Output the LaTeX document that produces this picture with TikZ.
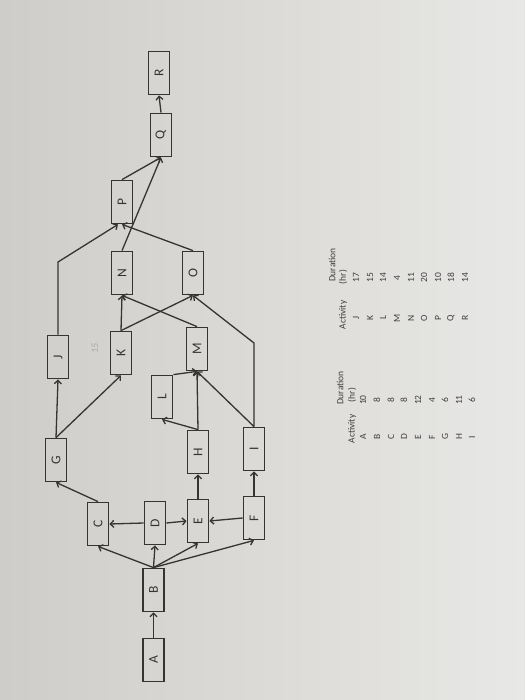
\documentclass[tikz,border=0pt]{standalone}
\usepackage{fontspec}
\setmainfont{Carlito}
\usetikzlibrary{arrows.meta}

\definecolor{paperleft}{HTML}{CFCDC9}
\definecolor{papermid}{HTML}{DCDBD8}
\definecolor{paperright}{HTML}{E8E8E6}
\definecolor{inkline}{HTML}{353433}
\definecolor{inktext}{HTML}{403F3E}

\newcommand{\actname}[1]{\rotatebox{90}{#1}}

\begin{document}
\begin{tikzpicture}[x=1pt,y=-1pt,
    activity/.style={draw=inkline, line width=1.8pt, minimum width=21pt,
      minimum height=43pt, inner sep=0pt, text=inkline,
      font=\fontsize{13.5}{15}\selectfont},
    link/.style={draw=inkline, line width=1.3pt,
      -{Straight Barb[length=3.5pt,width=7pt]}},
    tabtext/.style={rotate=90, text=inktext, inner sep=0pt,
      font=\fontsize{9.5}{11}\selectfont}]
    \useasboundingbox (0,0) rectangle (525,700);
    
    % Paper
    \shade[left color=paperleft, middle color=papermid, right color=paperright] (0,0) rectangle (525,700);%
    
    % Activity boxes
    \node[activity] (A) at (153.5,660) {\actname{A}};%
    \node[activity] (B) at (153.5,590) {\actname{B}};%
    \node[activity] (C) at (98,524) {\actname{C}};%
    \node[activity] (D) at (155,523) {\actname{D}};%
    \node[activity] (E) at (198,521) {\actname{E}};%
    \node[activity] (F) at (254,518) {\actname{F}};%
    \node[activity] (G) at (56,460) {\actname{G}};%
    \node[activity] (H) at (198,452) {\actname{H}};%
    \node[activity] (I) at (254,449) {\actname{I}};%
    \node[activity] (J) at (58,357) {\actname{J}};%
    \node[activity] (K) at (121,353) {\actname{K}};%
    \node[activity] (L) at (162,397) {\actname{L}};%
    \node[activity] (M) at (197,349) {\actname{M}};%
    \node[activity] (N) at (122,273) {\actname{N}};%
    \node[activity] (O) at (193,273) {\actname{O}};%
    \node[activity] (P) at (122,202) {\actname{P}};%
    \node[activity] (Q) at (161,135) {\actname{Q}};%
    \node[activity] (R) at (159,73) {\actname{R}};%
    
    % Bends
    \coordinate (Ibend) at (254,343);%
    \coordinate (Jbend) at (58,262);%
    
    % Links out of A and B
    \draw[link] (A.north) -- (B.south);%
    \draw[link] (B.north) -- (C.south);%
    \draw[link] (B.north) -- (D.south);%
    \draw[link] (B.north) -- (E.south);%
    \draw[link] (B.north) -- (F.south);%
    
    % Links out of C, D, E, F
    \draw[link] (C.north) -- (G.south);%
    \draw[link] (D.west) -- (C.east);%
    \draw[link] (D.east) -- (E.west);%
    \draw[link] (F.west) -- (E.east);%
    \draw[link] (E.north) -- (H.south);%
    \draw[link] (F.north) -- (I.south);%
    
    % Links out of G, H, I, L
    \draw[link] (G.north) -- (J.south);%
    \draw[link] (G.north) -- (K.south);%
    \draw[link] (H.north) -- (L.south);%
    \draw[link] (H.north) -- (M.south);%
    \draw[link] (L.north east) -- (M.south);%
    \draw[link] (I.north) -- (M.south);%
    \draw[link] (I.north) -- (Ibend) -- (O.south);%
    
    % Links out of J, K, M
    \draw[link] (J.north) -- (Jbend) -- ([xshift=-4pt]P.south);%
    \draw[link] (K.north) -- (N.south);%
    \draw[link] (K.north) -- (O.south);%
    \draw[link] (M.north) -- (N.south);%
    
    % Links out of N, O, P, Q
    \draw[link] (N.north) -- (Q.south);%
    \draw[link] (O.north) -- (P.south);%
    \draw[link] (P.north) -- (Q.south);%
    \draw[link] (Q.north) -- (R.south);%
    
    % Pencil mark by K
    \node[rotate=90, text=gray!65, inner sep=0pt, font=\itshape\fontsize{10}{11}\selectfont] (pencil) at (95,348) {15};%
    
    % First table, A to I
    \node[tabtext] (headDurA) at (340,388) {Duration};%
    \node[tabtext] (headHrA) at (352,395) {(hr)};%
    \node[tabtext] (headActA) at (352,429) {Activity};%
    \node[tabtext] (rowA) at (363,437) {A};%
    \node[tabtext] (durA) at (363,400) {10};%
    \node[tabtext] (rowB) at (377,437) {B};%
    \node[tabtext] (durB) at (377,400) {8};%
    \node[tabtext] (rowC) at (391,437) {C};%
    \node[tabtext] (durC) at (391,400) {8};%
    \node[tabtext] (rowD) at (404,437) {D};%
    \node[tabtext] (durD) at (404,400) {8};%
    \node[tabtext] (rowE) at (418,437) {E};%
    \node[tabtext] (durE) at (418,400) {12};%
    \node[tabtext] (rowF) at (432,437) {F};%
    \node[tabtext] (durF) at (432,400) {4};%
    \node[tabtext] (rowG) at (445,437) {G};%
    \node[tabtext] (durG) at (445,400) {6};%
    \node[tabtext] (rowH) at (459,437) {H};%
    \node[tabtext] (durH) at (459,400) {11};%
    \node[tabtext] (rowI) at (472,437) {I};%
    \node[tabtext] (durI) at (472,400) {6};%
    
    % Second table, J to R
    \node[tabtext] (headDurJ) at (332,265) {Duration};%
    \node[tabtext] (headHrJ) at (343,277) {(hr)};%
    \node[tabtext] (headActJ) at (343,315) {Activity};%
    \node[tabtext] (rowJ) at (356,318) {J};%
    \node[tabtext] (durJ) at (356,278) {17};%
    \node[tabtext] (rowK) at (370,318) {K};%
    \node[tabtext] (durK) at (370,278) {15};%
    \node[tabtext] (rowL) at (383,318) {L};%
    \node[tabtext] (durL) at (383,278) {14};%
    \node[tabtext] (rowM) at (397,318) {M};%
    \node[tabtext] (durM) at (397,278) {4};%
    \node[tabtext] (rowN) at (411,318) {N};%
    \node[tabtext] (durN) at (411,278) {11};%
    \node[tabtext] (rowO) at (424,318) {O};%
    \node[tabtext] (durO) at (424,278) {20};%
    \node[tabtext] (rowP) at (438,318) {P};%
    \node[tabtext] (durP) at (438,278) {10};%
    \node[tabtext] (rowQ) at (451,318) {Q};%
    \node[tabtext] (durQ) at (451,278) {18};%
    \node[tabtext] (rowR) at (465,318) {R};%
    \node[tabtext] (durR) at (465,278) {14};%
\end{tikzpicture}
\end{document}
